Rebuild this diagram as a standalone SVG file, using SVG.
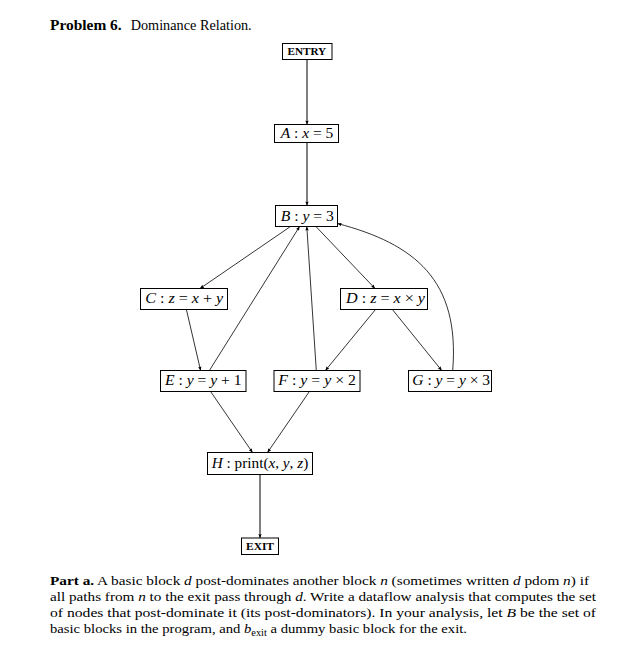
<svg xmlns="http://www.w3.org/2000/svg" width="634" height="665" viewBox="0 0 634 665">
<style>
text { font-family: "Liberation Serif", "Times New Roman", serif; fill: #000; }
.box { fill: #fff; stroke: #000; stroke-width: 1; }
.edge { fill: none; stroke: #000; stroke-width: 0.8; marker-end: url(#arr); }
.vedge { fill: none; stroke: #000; stroke-width: 1; marker-end: url(#arr); }
.lbl { font-size: 14.5px; text-anchor: middle; }
.tiny { font-size: 9.5px; font-weight: bold; text-anchor: middle; }
.para { font-size: 13.5px; }
.i { font-style: italic; }
.b { font-weight: bold; }
</style>
<defs>
<marker id="arr" viewBox="-5 -3 6 6" markerWidth="6" markerHeight="6" refX="0" refY="0" orient="auto" markerUnits="userSpaceOnUse">
<path d="M0,0 L-4,-1.7 Q-3,0 -4,1.7 Z" fill="#000"/>
</marker>
</defs>
<rect width="634" height="665" fill="#fff"/>

<g id="title">
<text x="50" y="30" font-size="14" font-weight="bold" textLength="71.7" lengthAdjust="spacingAndGlyphs">Problem 6.</text>
<text x="130.7" y="30" font-size="14" textLength="121" lengthAdjust="spacingAndGlyphs">Dominance Relation.</text>
</g>

<g id="connectors">
<path class="vedge" d="M307,59.5 L307,124.5"/>
<path class="vedge" d="M307,142.5 L307,205.5"/>
<path class="edge" d="M290.5,226.5 L200,288.5"/>
<path class="edge" d="M315.9,226.5 L375,288.5"/>
<path class="edge" d="M186.4,309.5 L200.6,370.5"/>
<path class="edge" d="M209.4,370.5 L299.6,226.5"/>
<path class="edge" d="M316.3,370.5 L306.8,226.5"/>
<path class="edge" d="M375.5,309.5 L325.4,370.5"/>
<path class="edge" d="M392.4,309.5 L441.7,370.5"/>
<path class="edge" d="M452.7,370.5 C460,280 415,244 337.5,223.5"/>
<path class="edge" d="M210.6,391.5 L252.5,452.5"/>
<path class="edge" d="M309.4,391.5 L267.5,452.5"/>
<path class="vedge" d="M260,474.5 L260,538"/>
</g>

<g id="ENTRY">
<rect class="box" x="282.5" y="43.5" width="49.5" height="16"/>
<text class="tiny" x="306.8" y="55" textLength="38.7" lengthAdjust="spacingAndGlyphs">ENTRY</text>
</g>
<g id="A">
<rect class="box" x="274.5" y="124.5" width="64" height="18"/>
<text class="lbl" x="307" y="138" textLength="52.6" lengthAdjust="spacingAndGlyphs"><tspan class="i">A</tspan> : <tspan class="i">x</tspan> = 5</text>
</g>
<g id="B">
<rect class="box" x="275.5" y="205.5" width="62" height="21"/>
<text class="lbl" x="307.3" y="220.5" textLength="53.3" lengthAdjust="spacingAndGlyphs"><tspan class="i">B</tspan> : <tspan class="i">y</tspan> = 3</text>
</g>
<g id="C">
<rect class="box" x="140.5" y="288.5" width="87" height="21"/>
<text class="lbl" x="184.2" y="302.5" textLength="78" lengthAdjust="spacingAndGlyphs"><tspan class="i">C</tspan> : <tspan class="i">z</tspan> = <tspan class="i">x</tspan> + <tspan class="i">y</tspan></text>
</g>
<g id="D">
<rect class="box" x="340.5" y="288.5" width="87" height="21"/>
<text class="lbl" x="385.5" y="302.5" textLength="79" lengthAdjust="spacingAndGlyphs"><tspan class="i">D</tspan> : <tspan class="i">z</tspan> = <tspan class="i">x</tspan> × <tspan class="i">y</tspan></text>
</g>
<g id="E">
<rect class="box" x="160.5" y="370.5" width="85.5" height="21"/>
<text class="lbl" x="203.3" y="385" textLength="76.7" lengthAdjust="spacingAndGlyphs"><tspan class="i">E</tspan> : <tspan class="i">y</tspan> = <tspan class="i">y</tspan> + 1</text>
</g>
<g id="F">
<rect class="box" x="274" y="370.5" width="86" height="21"/>
<text class="lbl" x="317.2" y="385" textLength="77.7" lengthAdjust="spacingAndGlyphs"><tspan class="i">F</tspan> : <tspan class="i">y</tspan> = <tspan class="i">y</tspan> × 2</text>
</g>
<g id="G">
<rect class="box" x="408.5" y="370.5" width="83" height="21"/>
<text class="lbl" x="451.2" y="385" textLength="77.7" lengthAdjust="spacingAndGlyphs"><tspan class="i">G</tspan> : <tspan class="i">y</tspan> = <tspan class="i">y</tspan> × 3</text>
</g>
<g id="H">
<rect class="box" x="207.5" y="452.5" width="105" height="22"/>
<text class="lbl" x="260" y="468" textLength="96.6" lengthAdjust="spacingAndGlyphs"><tspan class="i">H</tspan> : print(<tspan class="i">x</tspan>, <tspan class="i">y</tspan>, <tspan class="i">z</tspan>)</text>
</g>
<g id="EXIT">
<rect class="box" x="241.5" y="538" width="37" height="16.5"/>
<text class="tiny" x="260" y="550.3" textLength="28" lengthAdjust="spacingAndGlyphs">EXIT</text>
</g>

<g id="partA">
<text class="para" x="50" y="585.3" textLength="539" lengthAdjust="spacingAndGlyphs"><tspan class="b">Part a.</tspan> A basic block <tspan class="i">d</tspan> post-dominates another block <tspan class="i">n</tspan> (sometimes written <tspan class="i">d</tspan> pdom <tspan class="i">n</tspan>) if</text>
<text class="para" x="50" y="601.3" textLength="546" lengthAdjust="spacingAndGlyphs">all paths from <tspan class="i">n</tspan> to the exit pass through <tspan class="i">d</tspan>. Write a dataflow analysis that computes the set</text>
<text class="para" x="50" y="617.3" textLength="546" lengthAdjust="spacingAndGlyphs">of nodes that post-dominate it (its post-dominators). In your analysis, let <tspan class="i">B</tspan> be the set of</text>
<text class="para" x="50" y="633.3" textLength="417" lengthAdjust="spacingAndGlyphs">basic blocks in the program, and <tspan class="i">b</tspan><tspan font-size="9.5" dy="2.5">exit</tspan><tspan dy="-2.5"> a dummy basic block for the exit.</tspan></text>
</g>
</svg>
